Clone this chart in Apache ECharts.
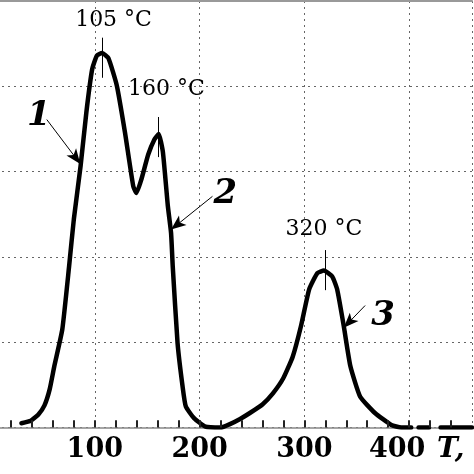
<!DOCTYPE html>
<html>
<head>
<meta charset="utf-8">
<script src="https://cdn.jsdelivr.net/npm/echarts@6/dist/echarts.min.js"></script>
<style>
html,body{margin:0;padding:0;background:#fff;overflow:hidden;width:474px;height:474px;position:relative;}
#chart{position:absolute;left:-13px;top:0;width:488px;height:474px;}
</style>
</head>
<body>
<div id="chart"></div>
<script>
// Temperature (°C) and signal (arbitrary units, 1 per grid cell)
var tempT = [30,39,46,52,57,61.4,69,75.5,80,86.5,92,97.5,102,107,113,121,128.8,136.7,139.8,144.5,151,157,161,165,169.7,172.8,174.4,179,183.8,186.9,194.7,205.7,220,229,238.7,248,260,270,280,288.9,296.8,304.6,312.4,318.7,326.6,331.3,337.6,343.9,353.3,367.4,383,392.5,402,405,409,419,424,430,460];
var signal = [0.05,0.08,0.15,0.26,0.45,0.72,1.15,1.89,2.44,3.07,3.7,4.2,4.36,4.39,4.33,4.01,3.46,2.83,2.75,2.91,3.2,3.38,3.44,3.23,2.6,2.28,1.89,0.99,0.48,0.245,0.11,0.01,0,0.04,0.1,0.17,0.27,0.4,0.58,0.83,1.19,1.62,1.81,1.84,1.77,1.62,1.19,0.72,0.36,0.17,0.03,0,0,'-',0,0,'-',0,0];
var xTicks = [100,200,300,400];
var minorTickT = [20,40,60,80,100,120,140,160,180,200,220,240,260,280,300,320,340,360,380,400,420,440];
var minorTickLen = 0.085;
var axisName = 'T,';
// Peak annotations
var peakT = [106.9,160.3,319.7];
var peakTop = [4.57,3.64,2.08];
var peakBottom = [4.10,3.17,1.61];
var peakText = ['105 °C','160 °C','320 °C'];
var peakTextPos = [[117.9,4.77],[168.4,3.97],[318.7,2.32]];
// Curve number labels and arrows
var curveNames = ['1','2','3'];
var curveNamePos = [[46.6,3.65],[224.6,2.74],[375.2,1.31]];
var arrowFrom = [[54.2,3.61],[212.3,2.71],[358,1.43]];
var arrowTo = [[86.2,3.09],[172.8,2.32],[337.6,1.17]];

var seriesData = tempT.map(function(t,i){ return [t, signal[i]]; });

var markLines = [];
minorTickT.forEach(function(t){
  markLines.push([{coord:[t,0],symbol:'none',lineStyle:{color:'#222',width:2}},{coord:[t,minorTickLen],symbol:'none'}]);
});
peakT.forEach(function(t,i){
  markLines.push([{coord:[t,peakTop[i]],symbol:'none'},{coord:[t,peakBottom[i]],symbol:'none'}]);
});
arrowFrom.forEach(function(p,i){
  markLines.push([{coord:p,symbol:'none'},{coord:arrowTo[i],symbol:'arrow',symbolSize:[9,15]}]);
});

var markPoints = [];
peakText.forEach(function(s,i){
  markPoints.push({coord:peakTextPos[i],value:s,label:{fontFamily:'DejaVu Serif',fontSize:22,fontStyle:'normal',fontWeight:'normal'}});
});
curveNames.forEach(function(s,i){
  markPoints.push({coord:curveNamePos[i],value:s,label:{fontFamily:'DejaVu Serif',fontSize:34,fontStyle:'italic',fontWeight:'bold'}});
});

var chart = echarts.init(document.getElementById('chart'), null, {renderer:'canvas'});
chart.setOption({
  animation:false,
  backgroundColor:'#fff',
  grid:{left:0,width:488,top:1,bottom:46.5,containLabel:false},
  xAxis:[{
    type:'value',min:0,max:460,interval:100,position:'bottom',offset:0,
    axisLine:{show:true,onZero:false,lineStyle:{color:'#888',width:1.5}},
    axisTick:{show:false},
    splitLine:{show:true,lineStyle:{color:'#666',width:1,type:[2,4]}},
    axisLabel:{
      show:true,margin:9,color:'#000',fontFamily:'DejaVu Serif',fontSize:27,fontWeight:'bold',
      formatter:function(v){
        if(xTicks.indexOf(v)<0) return '';
        if(v===400) return '{s|'+v+'}';
        return String(v);
      },
      rich:{s:{fontFamily:'DejaVu Serif',fontSize:27,fontWeight:'bold',color:'#000',padding:[0,24,0,0]}}
    },
    name:axisName,nameLocation:'end',nameGap:-35,
    nameTextStyle:{fontFamily:'DejaVu Serif',fontSize:28,fontStyle:'italic',fontWeight:'bold',color:'#000',align:'left',verticalAlign:'top',padding:[8,0,0,0]}
  },{
    type:'value',min:0,max:460,position:'top',offset:0,
    axisLine:{show:true,onZero:false,lineStyle:{color:'#999',width:2}},
    axisTick:{show:false},axisLabel:{show:false},splitLine:{show:false}
  }],
  yAxis:{
    type:'value',min:0,max:5,interval:1,
    axisLine:{show:false},axisTick:{show:false},axisLabel:{show:false},
    splitLine:{show:true,lineStyle:{color:'#666',width:1,type:[2,4]}}
  },
  series:[{
    type:'line',xAxisIndex:0,
    data:seriesData,
    showSymbol:false,symbol:'none',
    smooth:0.15,connectNulls:false,
    lineStyle:{color:'#000',width:4.5,join:'round',cap:'round'},
    markLine:{
      silent:true,animation:false,
      label:{show:false},
      lineStyle:{color:'#000',width:1,type:'solid'},
      data:markLines
    },
    markPoint:{
      silent:true,animation:false,
      symbol:'circle',symbolSize:0,
      label:{show:true,position:'inside',color:'#000',formatter:function(p){return p.value;}},
      data:markPoints
    }
  }]
});
</script>
</body>
</html>
